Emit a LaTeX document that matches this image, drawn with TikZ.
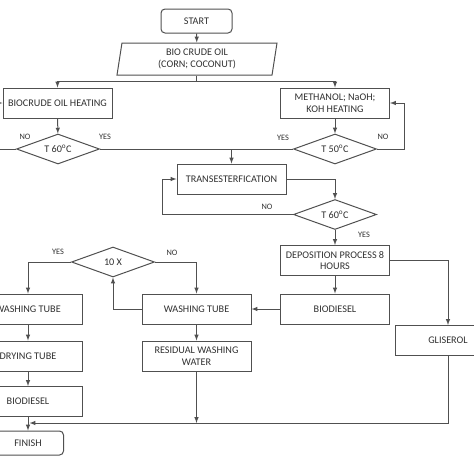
\documentclass[tikz,border=0pt]{standalone}
\usepackage{fontspec}
\setmainfont{Carlito}
\usetikzlibrary{shapes.geometric}
\definecolor{linegray}{HTML}{505050}
\definecolor{textgray}{HTML}{303030}
\tikzset{>=latex}
\tikzset{
	box/.style={draw=linegray, line width=1pt, text=textgray, align=center,
		minimum width=109pt, minimum height=30pt, inner sep=1pt,
		font=\fontsize{10.2}{11.5}\selectfont},
	term/.style={box, rounded corners=4pt, minimum width=71pt, minimum height=24pt},
	test/.style={box, diamond, aspect=2.75, minimum width=83pt, minimum height=30pt},
	io/.style={box, trapezium, trapezium left angle=77, trapezium right angle=103,
		trapezium stretches body, minimum width=160pt, minimum height=32pt},
	flow/.style={draw=linegray, line width=1pt},
	tag/.style={text=textgray, font=\fontsize{8.3}{9}\selectfont}
}

\begin{document}
\begin{tikzpicture}[x=1pt, y=-1pt]
		
			\useasboundingbox (0,0) rectangle (474,474);
			
			\node[term] (start)   at (196.5,21)  {START};
			\node[io]   (oil)     at (197,59)    {BIO CRUDE OIL\\(CORN; COCONUT)};
			\node[box]  (heatoil) at (57.5,103)  {BIOCRUDE OIL HEATING};
			\node[box]  (heatcat) at (335,103)   {METHANOL; NaOH;\\KOH HEATING};
			\node[test] (tempA)   at (58,149)    {T 60\textsuperscript{o}C};
			\node[test] (tempB)   at (335,149)   {T 50\textsuperscript{o}C};
			\node[box]  (trans)   at (231.5,179) {TRANSESTERFICATION};
			\node[test] (tempC)   at (335,214.5) {T 60\textsuperscript{o}C};
			\node[box]  (depo)    at (335,260.5) {DEPOSITION PROCESS 8\\HOURS};
			\node[box]  (bioA)    at (335,309)   {BIODIESEL};
			\node[box, minimum width=106pt] (glis) at (448,340.5) {GLISEROL};
			\node[box]  (washB)   at (196.5,309) {WASHING TUBE};
			\node[test] (times)   at (113,262)   {10 X};
			\node[box]  (washA)   at (28,309)    {WASHING TUBE};
			\node[box]  (dry)     at (28,356)    {DRYING TUBE};
			\node[box]  (bioB)    at (28,401.5)  {BIODIESEL};
			\node[box]  (resid)   at (196.5,356) {RESIDUAL WASHING\\WATER};
			\node[term] (finish)  at (28,443)    {FINISH};
			
			\coordinate (split) at (196,81);
			\coordinate (join)  at (trans.north |- tempA.east);
			\coordinate (merge) at (28,423);
			
			\draw[flow, ->] (start) -- (oil);
			\draw[flow] (oil.south -| split) -- (split);
			\draw[flow, ->] (split) -| (heatoil);
			\draw[flow, ->] (split) -| (heatcat);
			\draw[flow, ->] (heatoil) -- (tempA);
			\draw[flow, ->] (heatcat) -- (tempB);
			\draw[flow] (tempA.east) -- (tempB.west);
			\draw[flow, ->] (join) -- (trans);
			\draw[flow, ->] (tempA.west) -- ++(-26,0) |- (heatoil.west);
			\draw[flow, ->] (tempB.east) -- ++(27,0) |- (heatcat.east);
			\draw[flow, ->] (trans.east) -| (tempC.north);
			\draw[flow, ->] (tempC.west) -- ++(-130.5,0) |- (trans.west);
			\draw[flow, ->] (tempC) -- (depo);
			\draw[flow, ->] (depo) -- (bioA);
			\draw[flow, ->] (depo.east) -| (glis.north);
			\draw[flow, ->] (bioA) -- (washB);
			\draw[flow, ->] (washB.west) -| (times.south);
			\draw[flow, ->] (times.west) -| (washA.north);
			\draw[flow, ->] (times.east) -| (washB.north);
			\draw[flow, ->] (washA) -- (dry);
			\draw[flow, ->] (dry) -- (bioB);
			\draw[flow, ->] (bioB) -- (finish);
			\draw[flow, ->] (washB) -- (resid);
			\draw[flow, ->] (resid.south) -- (resid.south |- merge);
			\draw[flow, ->] (glis.south) |- ([xshift=1.5pt]merge);
			
			\draw
				(25,137)  node[tag] {NO}
				(105,137) node[tag] {YES}
				(283,138) node[tag] {YES}
				(383,137) node[tag] {NO}
				(267,207) node[tag] {NO}
				(364,235) node[tag] {YES}
				(58,252)  node[tag] {YES}
				(172,253) node[tag] {NO};
			
		\end{tikzpicture}
\end{document}
